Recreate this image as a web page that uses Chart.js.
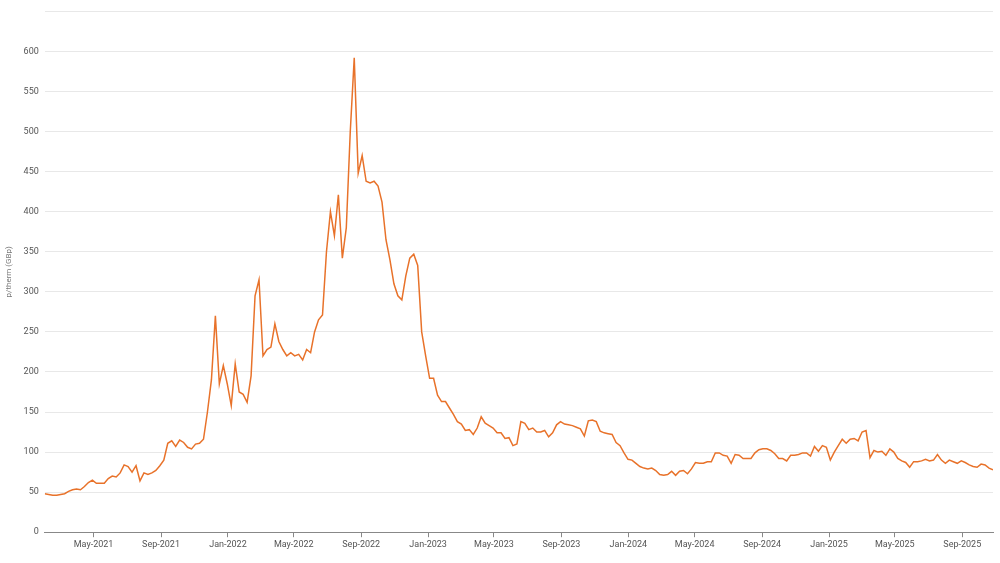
<!DOCTYPE html>
<html><head><meta charset="utf-8">
<script src="https://cdn.jsdelivr.net/npm/chart.js@4/dist/chart.umd.min.js"></script>
<style>html,body{margin:0;padding:0;background:#fff}#w{width:1000px;height:563px}</style>
</head><body><div id="w"><canvas id="c"></canvas></div>
<script>
const startDate = '2021-02-01';
const endDate = '2025-10-27';
const values = [48,47,46,46,47,48,51,53,54,53,57,62,65,61,61,61,67,70,69,74,84,82,75,83,64,74,72,74,77,83,90,111,114,107,115,112,106,104,110,111,116,150,190,270,185,208,185,158,210,175,172,162,195,295,315,220,228,231,260,238,228,220,224,220,222,215,228,224,250,265,271,350,400,370,421,342,380,500,592,448,470,438,436,438,432,412,365,340,310,295,290,320,342,347,333,250,220,192,192,171,163,163,155,147,138,135,127,128,122,130,144,136,133,130,124,124,117,118,108,110,138,136,128,130,125,125,127,119,124,134,138,135,134,133,131,129,120,139,140,138,126,124,123,122,112,108,99,91,90,86,82,80,79,80,77,72,71,72,76,71,76,77,73,79,87,86,86,88,88,99,99,96,95,86,97,96,92,92,92,99,103,104,104,102,98,92,92,89,96,96,97,99,99,95,107,101,108,106,90,100,108,116,111,116,117,114,125,127,93,102,100,101,96,104,100,92,89,87,81,88,88,89,91,89,90,97,90,86,90,88,86,89,87,84,82,81,85,84,80,78];
const tickMonths = ['2021-05-01','2021-09-01','2022-01-01','2022-05-01','2022-09-01','2023-01-01','2023-05-01','2023-09-01','2024-01-01','2024-05-01','2024-09-01','2025-01-01','2025-05-01','2025-09-01'];
const monthNames = ['Jan','Feb','Mar','Apr','May','Jun','Jul','Aug','Sep','Oct','Nov','Dec'];
const yTitle = 'p/therm (GBp)';

const t0 = Date.parse(startDate), t1 = Date.parse(endDate);
const step = (t1-t0)/(values.length-1);
const pts = values.map((v,i)=>({x:t0+i*step, y:v}));
const tickVals = tickMonths.map(d=>Date.parse(d));
Chart.defaults.font.family = 'Roboto';
Chart.defaults.color = '#555';
new Chart(document.getElementById('c'), {
  type:'line',
  data:{datasets:[{data:pts, borderColor:'#e8722a', borderWidth:1.5, pointRadius:0, tension:0, fill:false}]},
  options:{
    responsive:true, maintainAspectRatio:false, animation:false,
    layout:{padding:{top:-3,right:7,left:0,bottom:11}},
    plugins:{legend:{display:false}, tooltip:{enabled:false}},
    scales:{
      x:{type:'linear', min:t0, max:t1,
        afterBuildTicks:(ax)=>{ax.ticks=tickVals.map(v=>({value:v}));},
        ticks:{autoSkip:false, maxRotation:0, font:{size:9}, padding:2,
          callback:(v)=>{const d=new Date(v);return monthNames[d.getUTCMonth()]+'-'+d.getUTCFullYear();}},
        grid:{drawOnChartArea:false, drawTicks:true, tickLength:5, color:'#888'},
        border:{color:'#888'}},
      y:{min:0, max:650,
        ticks:{stepSize:50, font:{size:9}, padding:6, callback:(v)=>v===650?'':v},
        grid:{color:'#e8e8e8', drawTicks:false},
        border:{display:false},
        title:{display:true, text:yTitle, font:{size:8}, color:'#777', padding:{bottom:4}}}
    }
  }
});
</script></body></html>
